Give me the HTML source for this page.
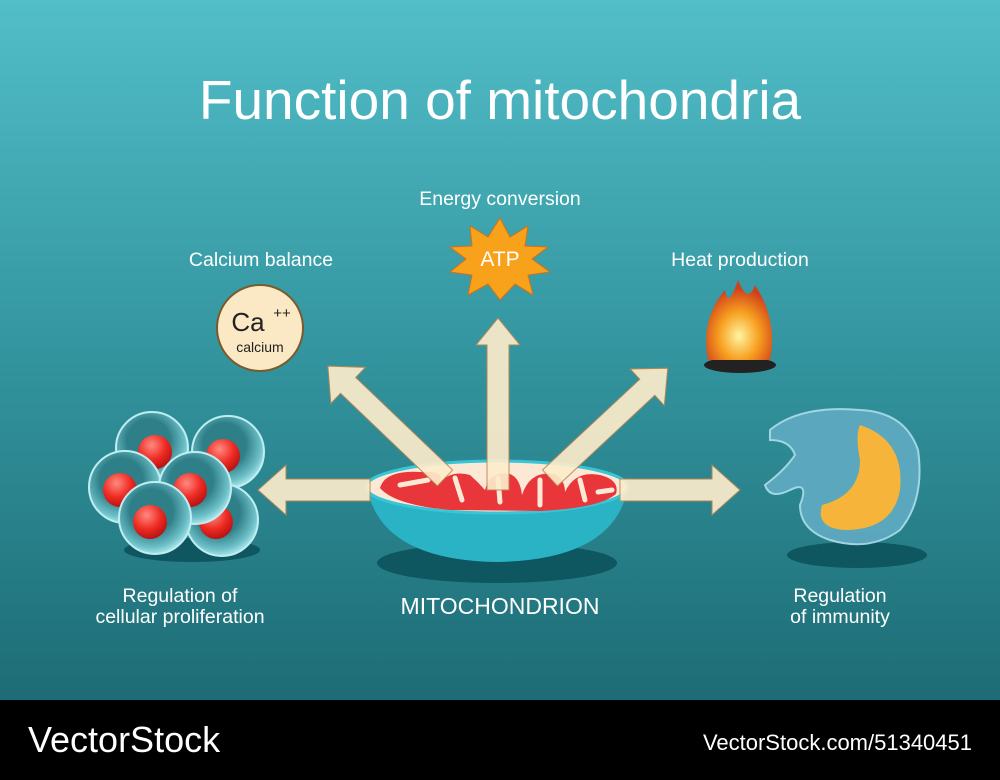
<!DOCTYPE html>
<html><head><style>body{margin:0}svg{display:block}text{font-family:"Liberation Sans",sans-serif}</style></head><body>
<svg width="1000" height="780" viewBox="0 0 1000 780" xmlns="http://www.w3.org/2000/svg">
<defs>
<linearGradient id="bg" x1="0" y1="0" x2="0" y2="1"><stop offset="0" stop-color="#52bec8"/><stop offset="0.5" stop-color="#33959f"/><stop offset="1" stop-color="#1d6c75"/></linearGradient>
<radialGradient id="cell" cx="0.45" cy="0.4" r="0.6"><stop offset="0.5" stop-color="#2f7f88"/><stop offset="0.85" stop-color="#6dc0c8"/><stop offset="1" stop-color="#a8e4ea"/></radialGradient>
<radialGradient id="nuc" cx="0.4" cy="0.3" r="0.7"><stop offset="0" stop-color="#ff8a80"/><stop offset="0.6" stop-color="#ee2a22"/><stop offset="1" stop-color="#b81414"/></radialGradient>
<radialGradient id="fire" cx="0.5" cy="0.7" r="0.6"><stop offset="0" stop-color="#fff4a0"/><stop offset="0.5" stop-color="#f7a020"/><stop offset="1" stop-color="#d0401a"/></radialGradient>
</defs>
<rect width="1000" height="700" fill="url(#bg)"/>
<rect y="700" width="1000" height="80" fill="#000"/>
<text x="500" y="119" font-size="55" fill="#fff" text-anchor="middle">Function of mitochondria</text>
<g font-size="19.5" fill="#fff" text-anchor="middle">
<text x="500" y="205">Energy conversion</text>
<text x="261" y="266">Calcium balance</text>
<text x="740" y="266">Heat production</text>
<text x="180" y="602">Regulation of</text>
<text x="180" y="623">cellular proliferation</text>
<text x="840" y="602">Regulation</text>
<text x="840" y="623">of immunity</text>
</g>
<text x="500" y="614" font-size="23" fill="#fff" text-anchor="middle">MITOCHONDRION</text>
<ellipse cx="497" cy="563" rx="120" ry="20" fill="#0e5660"/>
<ellipse cx="192" cy="550" rx="68" ry="12" fill="#0e5660"/>
<ellipse cx="857" cy="555" rx="70" ry="13" fill="#0e5660"/>
<path d="M367 487 Q380 560 497 562 Q615 560 628 487 Z" fill="#2ab3c4"/>
<ellipse cx="497" cy="487" rx="131" ry="26" fill="#fbe9d6" stroke="#38c5d6" stroke-width="3"/>
<path d="M380 488 Q385 470 420 472 Q445 470 440 482 Q452 470 470 475 Q478 482 485 490 Q490 470 510 474 Q520 478 522 495 Q530 470 555 474 Q565 480 565 492 Q575 470 600 475 Q620 480 616 494 Q600 508 540 511 L450 510 Q395 505 380 488 Z" fill="#e8363a"/>
<g stroke="#fbe9d6" stroke-width="5" fill="none" stroke-linecap="round">
<path d="M400 485 L428 480"/><path d="M455 478 L462 500"/><path d="M498 478 L500 502"/><path d="M540 480 L540 505"/><path d="M580 480 L585 500"/><path d="M598 492 L612 490"/>
</g>
<g fill="#fdeccb" stroke="#b98850" stroke-width="1" opacity="0.92">
<path id="ar" d="M0,-11 L84,-11 L84,-25 L112,0 L84,25 L84,11 L0,11 Z" transform="translate(370,490) rotate(180)"/>
<path d="M0,-11 L92,-11 L92,-25 L120,0 L92,25 L92,11 L0,11 Z" transform="translate(620,490)"/>
<path d="M0,-11 L145,-11 L145,-22 L172,0 L145,22 L145,11 L0,11 Z" transform="translate(498,490) rotate(-90)"/>
<path d="M0,-11 L134,-11 L134,-25 L162,0 L134,25 L134,11 L0,11 Z" transform="translate(445,478) rotate(-136.3)"/>
<path d="M0,-11 L133,-11 L133,-25 L161,0 L133,25 L133,11 L0,11 Z" transform="translate(550,478) rotate(-43)"/>
</g>
<polygon points="500,218 510,237 528,226 525,246 548,247 532,259 550,272 528,275 533,295 515,284 500,300 488,284 468,295 472,275 450,272 466,259 450,247 472,246 470,226 488,237" fill="#f7a21a" stroke="#d2701a"/>
<text x="500" y="266" font-size="21" fill="#fff" text-anchor="middle">ATP</text>
<circle cx="260" cy="328" r="43" fill="#fbe8c4" stroke="#7a5a2a" stroke-width="2"/>
<text x="248" y="331" font-size="26" fill="#222" text-anchor="middle">Ca</text>
<text x="282" y="318" font-size="15" fill="#222" text-anchor="middle">++</text>
<text x="260" y="352" font-size="14" fill="#222" text-anchor="middle">calcium</text>
<ellipse cx="740" cy="365" rx="36" ry="8" fill="#222"/>
<path d="M708 360 Q700 320 725 290 Q728 310 738 280 Q748 305 755 285 Q778 320 770 360 Z" fill="url(#fire)"/>
<g stroke="#bfeef2" stroke-width="2">
<circle cx="228" cy="452" r="36" fill="url(#cell)"/><circle cx="223" cy="456" r="17" fill="url(#nuc)" stroke="none"/>
<circle cx="152" cy="448" r="36" fill="url(#cell)"/><circle cx="155" cy="452" r="17" fill="url(#nuc)" stroke="none"/>
<circle cx="222" cy="520" r="36" fill="url(#cell)"/><circle cx="216" cy="522" r="17" fill="url(#nuc)" stroke="none"/>
<circle cx="125" cy="487" r="36" fill="url(#cell)"/><circle cx="120" cy="490" r="17" fill="url(#nuc)" stroke="none"/>
<circle cx="195" cy="488" r="36" fill="url(#cell)"/><circle cx="190" cy="490" r="17" fill="url(#nuc)" stroke="none"/>
<circle cx="155" cy="518" r="36" fill="url(#cell)"/><circle cx="150" cy="522" r="17" fill="url(#nuc)" stroke="none"/>
</g>
<path d="M770 430 Q800 405 860 410 Q905 412 918 450 Q925 500 900 530 Q870 552 830 540 Q800 530 800 505 Q810 480 790 490 Q770 500 765 485 Q785 470 795 455 Q790 440 770 440 Z" fill="#5ea9c0" stroke="#a7dbe8" stroke-width="2" opacity="0.95"/>
<path d="M860 425 Q905 440 900 490 Q893 530 845 530 Q815 528 822 505 Q860 495 860 460 Q855 435 860 425 Z" fill="#f6b53a"/>
<text x="28" y="752" font-size="36" fill="#fff">VectorStock</text>
<text x="972" y="750" font-size="22" fill="#fff" text-anchor="end">VectorStock.com/51340451</text>
</svg>
</body></html>
